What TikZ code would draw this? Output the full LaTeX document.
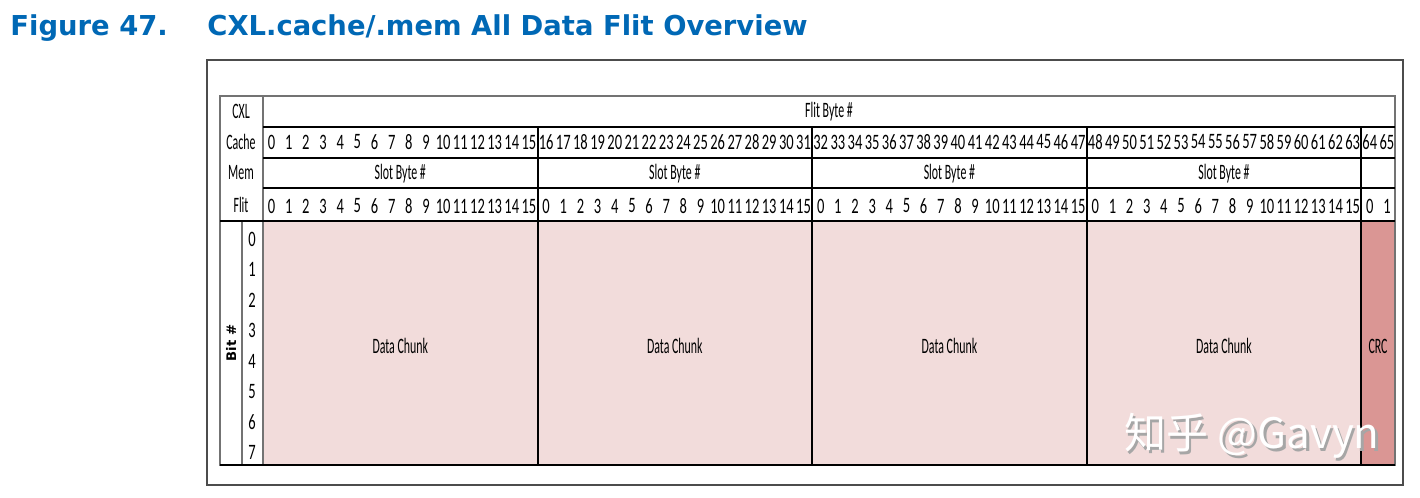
\documentclass[tikz,border=0pt]{standalone}
\usepackage{fontspec}
\setmainfont{Carlito}
\newfontfamily\numfont[FakeStretch=0.66]{Carlito}
\newfontfamily\labfont[FakeStretch=0.54]{Carlito}
\newfontfamily\headfont{DejaVu Sans}
\newfontfamily\cjkfont{Noto Sans CJK SC}
\usetikzlibrary{positioning}
\definecolor{intelblue}{RGB}{0,104,181}
\definecolor{chunkpink}{RGB}{242,220,219}
\definecolor{crcpink}{RGB}{218,150,148}
\def\bw{17.16}

\begin{document}
\begin{tikzpicture}[x=0.5pt,y=-0.5pt,
  ttl/.style={anchor=base west,inner sep=0,text=intelblue,font=\headfont\bfseries\fontsize{13.7}{16}\selectfont},
  hdr/.style={inner sep=0,font=\labfont\fontsize{11}{13}\selectfont},
  num/.style={inner sep=0,font=\numfont\fontsize{11}{13}\selectfont},
  thick rule/.style={line width=1.3pt},
  thin rule/.style={black!55,line width=0.6pt}]
\useasboundingbox (0,0) rectangle (1420,498);
%
\node[ttl] (fig) at (10,35) {Figure 47.};
\node[ttl] (title) at (207,35) {CXL.cache/.mem All Data Flit Overview};
%
\draw[black!70,line width=0.6pt] (207,60) rectangle (1403,485);
%
\fill[chunkpink] (263,221) rectangle (1361,465);
\fill[crcpink] (1361,221) rectangle (1395,465);
%
\draw[thin rule] (220,96) rectangle (1395,465);
\draw[thin rule] (263,96) -- (263,465);
\draw[thin rule] (242,221) -- (242,465);
\foreach \x in {538,812,1087,1361}
  \draw[black,line width=0.7pt] (\x,127) -- (\x,465);
\draw[thick rule] (263,127) -- (1395,127);
\draw[black,line width=1pt] (263,158) -- (1395,158);
\draw[thick rule] (263,188) -- (1395,188);
\draw[thick rule] (220,221) -- (1395,221);
\draw[thick rule] (220,465) -- (1395,465);
%
\node[hdr] (cxl) at (241,111) {CXL};
\node[hdr] (cache) at (241,142) {Cache};
\node[hdr] (mem) at (241,173) {Mem};
\node[hdr] (flit) at (241,205) {Flit};
\node[hdr] (flitbyte) at (829,112) {Flit Byte \#};
%
\foreach \i in {0,...,65}
  \node[num] (fb\i) at ({263+\bw*(\i+0.5)},142) {\i};
\foreach \g in {0,...,3}{
  \node[hdr] (slot\g) at ({263+\bw*(16*\g+8)},174) {Slot Byte \#};
  \node[hdr] (chunk\g) at ({263+\bw*(16*\g+8)},346) {Data Chunk};
  \foreach \i in {0,...,15}
    \node[num] (sb\g-\i) at ({263+\bw*(16*\g+\i+0.5)},206) {\i};
}
\node[num] (sb4-0) at ({263+\bw*64.5},206) {0};
\node[num] (sb4-1) at ({263+\bw*65.5},206) {1};
\node[hdr] (crc) at (1378,346) {CRC};
%
\node[rotate=90,inner sep=0,font=\headfont\bfseries\fontsize{6.6}{8}\selectfont] (bit) at (231,343) {Bit \#};
\foreach \b in {0,...,7}
  \node[num] (bit\b) at (252,{221+30.5*(\b+0.5)+3}) {\b};
%
\node[text=black!35,font=\cjkfont\fontsize{21}{24}\selectfont] (wmshadow) at (1254.5,438.5) {知乎 @Gavyn};
\node[text=white,font=\cjkfont\fontsize{21}{24}\selectfont] (wm) at (1252,436) {知乎 @Gavyn};
\end{tikzpicture}
\end{document}
